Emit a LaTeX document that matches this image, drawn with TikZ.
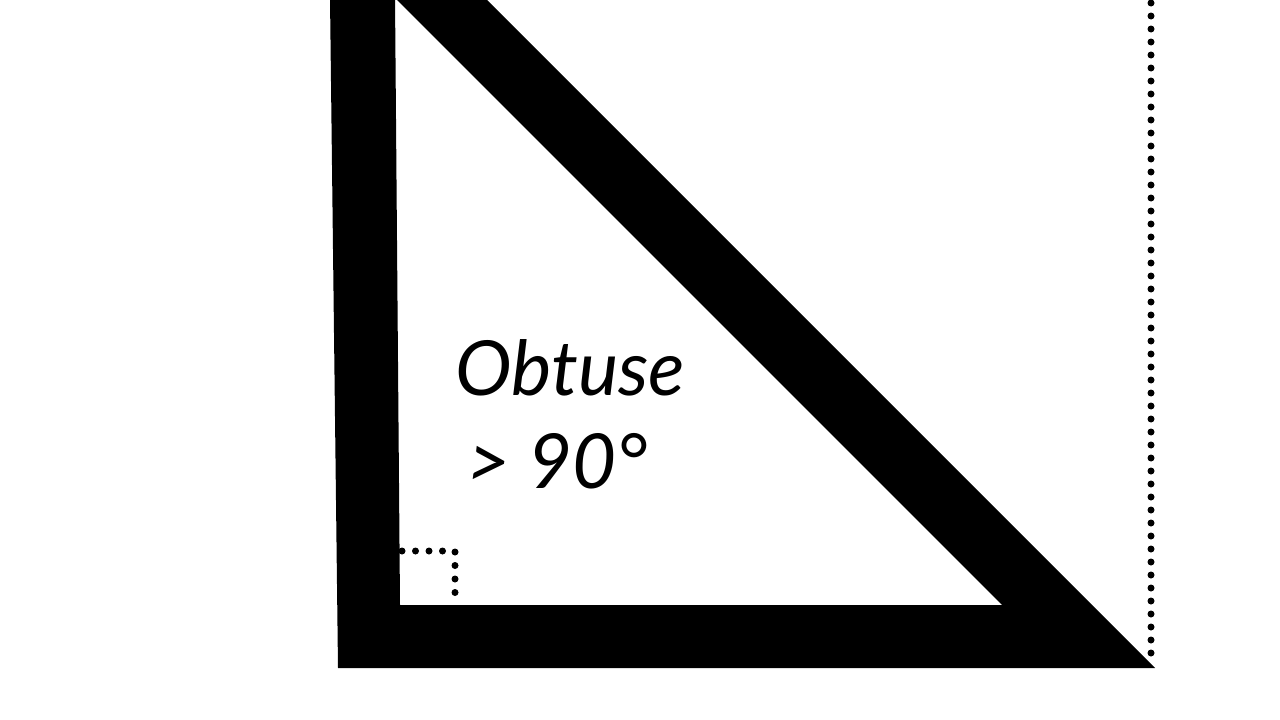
\documentclass[tikz,border=0pt]{standalone}
\usepackage{fontspec}
\setmainfont{Lato}
\begin{document}
\begin{tikzpicture}[x=1pt,y=-1pt]
\useasboundingbox (0,0) rectangle (1280,720);
\fill[white] (0,0) rectangle (1280,720);
% thick triangle frame
\fill[black,even odd rule] (330,-2) -- (485,-2) -- (1155,668) -- (338,668) -- cycle
  (395,-2) -- (1002,605) -- (400,605) -- cycle;
% right angle mark
\draw[line width=7pt,line cap=round,dash pattern=on 0pt off 13.5pt] (402,551) -- (455,551) -- (455,603);
% dotted vertical
\draw[line width=7pt,line cap=round,dash pattern=on 0pt off 13pt] (1151,3) -- (1151,662);
\node[anchor=base west,inner sep=0pt,font=\itshape\fontsize{76}{90}\selectfont] (obtuse) at (455,395) {Obtuse};
\node[anchor=base west,inner sep=0pt,font=\itshape\fontsize{76}{90}\selectfont] (angle) at (466,488) {> 90°};
\end{tikzpicture}
\end{document}
